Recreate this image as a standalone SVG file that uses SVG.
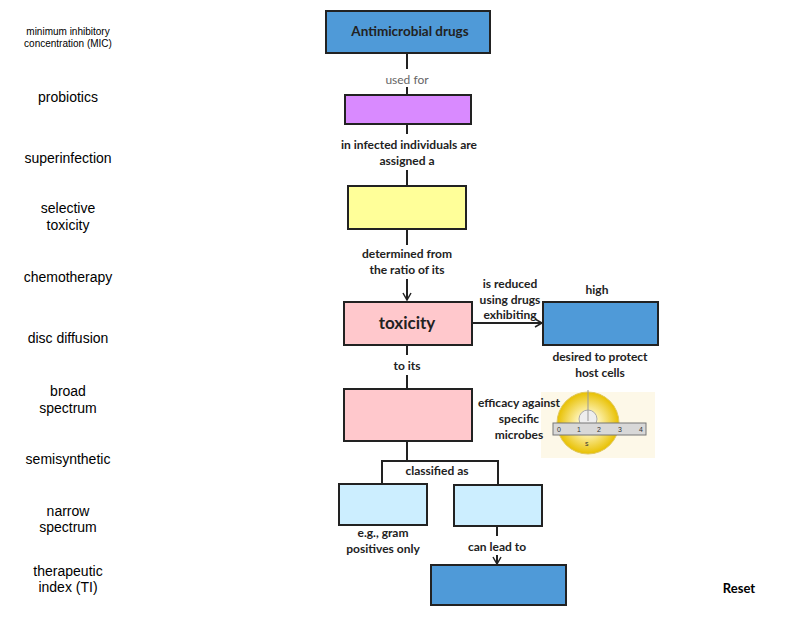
<svg xmlns="http://www.w3.org/2000/svg" width="796" height="630" viewBox="0 0 796 630">
<style>
.n{stroke:#222;stroke-width:2}
.c{stroke:#222;stroke-width:2;fill:none}
.t{font-family:Lato,"Liberation Sans",sans-serif;font-size:12px;font-weight:bold;fill:#222;text-anchor:middle}
.l{font-family:"Liberation Sans",sans-serif;font-size:14px;fill:#000;text-anchor:middle}
.s{font-size:10px}
</style>
<defs><marker id="a" markerWidth="10" markerHeight="10" refX="8" refY="5" orient="auto" markerUnits="userSpaceOnUse"><path d="M1,1 L8,5 L1,9" fill="none" stroke="#222" stroke-width="1.5"/></marker>
<radialGradient id="g"><stop offset="0.3" stop-color="#fff6c0"/><stop offset="1" stop-color="#e8c000"/></radialGradient></defs>
<rect width="796" height="630" fill="#fff"/>
<g id="bank">
<text class="l s" x="68" y="35">minimum inhibitory</text><text class="l s" x="68" y="47">concentration (MIC)</text>
<text class="l" x="68" y="102">probiotics</text>
<text class="l" x="68" y="163">superinfection</text>
<text class="l" x="68" y="213">selective</text><text class="l" x="68" y="230">toxicity</text>
<text class="l" x="68" y="282">chemotherapy</text>
<text class="l" x="68" y="343">disc diffusion</text>
<text class="l" x="68" y="396">broad</text><text class="l" x="68" y="413">spectrum</text>
<text class="l" x="68" y="464">semisynthetic</text>
<text class="l" x="68" y="516">narrow</text><text class="l" x="68" y="532">spectrum</text>
<text class="l" x="68" y="576">therapeutic</text><text class="l" x="68" y="592">index (TI)</text>
</g>
<g id="img">
<rect x="541" y="392" width="114" height="66" fill="#fdf8e8"/>
<circle cx="588" cy="423" r="31" fill="url(#g)" stroke="#e0c860"/>
<circle cx="588" cy="419" r="9" fill="#eee" stroke="#aaa"/>
<line x1="588" y1="390" x2="588" y2="421" stroke="#999"/>
<rect x="553" y="423" width="93" height="12" fill="#d8d8d8" stroke="#777"/>
<g font-family="Liberation Sans,sans-serif" font-size="7" fill="#333"><text x="557" y="432">0</text><text x="577" y="432">1</text><text x="597" y="432">2</text><text x="618" y="432">3</text><text x="639" y="432">4</text><text x="585" y="446">s</text></g>
</g>
<g id="connectors">
<path class="c" d="M407,53V69M407,87V95M407,124V134M407,170V186M407,229V245"/>
<path class="c" d="M407,279V300" marker-end="url(#a)"/>
<path class="c" d="M472,323H542" marker-end="url(#a)"/>
<path class="c" d="M407,345V355M407,375V389M407,441V461M382,484V461H498V485"/>
<path class="c" d="M497,526V536"/>
<path class="c" d="M497,555V564" marker-end="url(#a)"/>
<text class="t" x="407" y="84" style="font-weight:normal;fill:#666">used for</text>
<text class="t" x="409" y="149">in infected individuals are</text><text class="t" x="407" y="165">assigned a</text>
<text class="t" x="407" y="258">determined from</text><text class="t" x="407" y="274">the ratio of its</text>
<text class="t" x="510" y="288">is reduced</text><text class="t" x="510" y="304">using drugs</text><text class="t" x="510" y="319">exhibiting</text>
<text class="t" x="407" y="370">to its</text>
<text class="t" x="519" y="407">efficacy against</text><text class="t" x="519" y="423">specific</text><text class="t" x="519" y="439">microbes</text>
<text class="t" x="437" y="475">classified as</text>
<text class="t" x="383" y="537">e.g., gram</text><text class="t" x="383" y="553">positives only</text>
<text class="t" x="497" y="551">can lead to</text>
</g>
<g id="n1"><rect class="n" x="326" y="11" width="164" height="42" fill="#4f9ad8"/><text class="t" x="410" y="36" style="font-size:13.5px">Antimicrobial drugs</text></g>
<g id="n2"><rect class="n" x="345" y="95" width="126" height="29" fill="#d98aff"/></g>
<g id="n3"><rect class="n" x="348" y="186" width="118" height="43" fill="#ffff99"/></g>
<g id="n4"><rect class="n" x="344" y="302" width="128" height="43" fill="#ffc8cc"/><text class="t" x="407" y="329" style="font-size:17px">toxicity</text></g>
<g id="n5"><rect class="n" x="543" y="302" width="115" height="43" fill="#4f9ad8"/><text class="t" x="597" y="294">high</text><text class="t" x="600" y="361">desired to protect</text><text class="t" x="600" y="377">host cells</text></g>
<g id="n6"><rect class="n" x="344" y="389" width="128" height="52" fill="#ffc8cc"/></g>
<g id="n7"><rect class="n" x="339" y="484" width="88" height="41" fill="#cceeff"/></g>
<g id="n8"><rect class="n" x="454" y="485" width="88" height="41" fill="#cceeff"/></g>
<g id="n9"><rect class="n" x="431" y="565" width="135" height="40" fill="#4f9ad8"/></g>
<g id="reset"><text x="739" y="593" class="t" style="font-size:13px;fill:#000">Reset</text></g>
</svg>
